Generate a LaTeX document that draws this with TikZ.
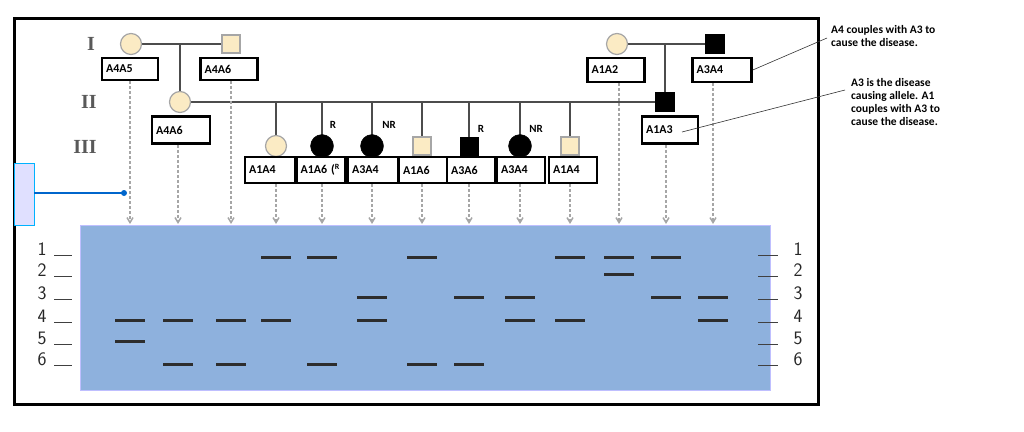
\documentclass[tikz,border=0pt]{standalone}
\usepackage{fontspec}
\setmainfont{Carlito}
\newfontfamily\serifnum{Liberation Serif}
\usetikzlibrary{arrows.meta}
\definecolor{gel}{HTML}{8EB1DD}
\definecolor{palef}{HTML}{FBEBC4}
\begin{document}
\begin{tikzpicture}[x=1pt,y=-1pt,
  pale/.style={fill=palef,draw=gray!70,line width=1.2pt},
  aff/.style={fill=black,draw=black},
  lab/.style={draw=black,line width=2.5pt,fill=white,minimum height=22pt,inner sep=2pt,font=\bfseries\fontsize{12}{14}\selectfont,anchor=center},
  ped/.style={draw=gray!60!black,line width=1.3pt},
  arr/.style={draw=gray!70,line width=1.5pt,dash pattern=on 3pt off 2pt,-{Straight Barb[length=5pt,width=6pt]}},
  band/.style={draw=gray!35!black,line width=3pt},
  gen/.style={font=\serifnum\bfseries\fontsize{20}{22}\selectfont,text=gray!70!black},
  num/.style={font=\sffamily\fontsize{19}{20}\selectfont,text=gray!30!black},
  note/.style={font=\bfseries\fontsize{11.5}{13}\selectfont,align=left,anchor=north west,inner sep=0pt}]
\useasboundingbox (0,0) rectangle (1024,431);
\draw[line width=3pt] (14,18) rectangle (818,404);
% generations
\node[gen] (gI) at (91,44) {I};
\node[gen] (gII) at (89,102) {II};
\node[gen] (gIII) at (85,147) {III};
% left blue tab
\fill[blue!12,draw=blue!30!cyan] (14,163) rectangle (34,225);
\coordinate (tab) at (34,193);
\fill[blue!50!cyan!80!black] (124,193) circle (3);
\coordinate (dot) at (124,193);
\draw[blue!50!cyan!80!black,line width=1.5pt] (tab) -- (dot);
% gel
\fill[gel,draw=blue!25!white] (80,225) rectangle (770,390);
% pedigree lines
\draw[ped] (131,44) -- (231,44);
\draw[ped] (180,44) -- (180,102);
\draw[ped] (180,102) -- (665,102);
\foreach \x in {276,322,372,422,469,520,570}{\draw[ped] (\x,102) -- (\x,140);}
\draw[ped] (617,44) -- (715,44);
\draw[ped] (665,44) -- (665,102);
% symbols
\node[circle,pale,minimum size=21pt,inner sep=0] (p1) at (131,44) {};
\node[rectangle,pale,minimum size=18pt,inner sep=0] (p2) at (231,44) {};
\node[circle,pale,minimum size=21pt,inner sep=0] (p3) at (180,102) {};
\node[circle,pale,minimum size=21pt,inner sep=0] (c1) at (276,146) {};
\node[circle,aff,minimum size=23pt,inner sep=0] (c2) at (322,146) {};
\node[circle,aff,minimum size=23pt,inner sep=0] (c3) at (372,146) {};
\node[rectangle,pale,minimum size=18pt,inner sep=0] (c4) at (422,146) {};
\node[rectangle,aff,minimum size=18pt,inner sep=0] (c5) at (469,146) {};
\node[circle,aff,minimum size=23pt,inner sep=0] (c6) at (520,146) {};
\node[rectangle,pale,minimum size=18pt,inner sep=0] (c7) at (570,146) {};
\node[circle,pale,minimum size=21pt,inner sep=0] (q1) at (617,44) {};
\node[rectangle,aff,minimum size=19pt,inner sep=0] (q2) at (715,44) {};
\node[rectangle,aff,minimum size=19pt,inner sep=0] (q3) at (665,102) {};
\node[font=\bfseries\fontsize{11}{12}\selectfont] (r1) at (333,125) {R};
\node[font=\bfseries\fontsize{11}{12}\selectfont] (r2) at (389,125) {NR};
\node[font=\bfseries\fontsize{11}{12}\selectfont] (r3) at (481,129) {R};
\node[font=\bfseries\fontsize{11}{12}\selectfont] (r4) at (536,129) {NR};
% label boxes
\node[lab,minimum width=56pt,text width=48pt] (b1) at (130,69) {A4A5};
\node[lab,minimum width=57pt,text width=49pt] (b2) at (229,69) {A4A6};
\node[lab,minimum width=58pt,text width=50pt,minimum height=27pt] (b3) at (181,130) {A4A6};
\node[lab,minimum width=57pt,text width=49pt,minimum height=24pt] (b12) at (616,70) {A1A2};
\node[lab,minimum width=59pt,text width=51pt,minimum height=24pt] (b13) at (722,70) {A3A4};
\node[lab,minimum width=56pt,text width=48pt,minimum height=27pt] (b14) at (670,130) {A1A3};
\node[lab,minimum width=50pt,text width=42pt,minimum height=26pt] (b4) at (270,170) {A1A4};
\node[lab,minimum width=49pt,text width=41pt,minimum height=26pt] (b5) at (321,170) {A1A6 (\textsuperscript{R}};
\node[lab,minimum width=50pt,text width=42pt,minimum height=26pt] (b6) at (373,170) {A3A4};
\node[lab,minimum width=48pt,text width=40pt,minimum height=26pt] (b7) at (423,170) {A1A6};
\node[lab,minimum width=48pt,text width=40pt,minimum height=26pt] (b8) at (471,170) {A3A6};
\node[lab,minimum width=48pt,text width=40pt,minimum height=26pt] (b9) at (521,170) {A3A4};
\node[lab,minimum width=48pt,text width=40pt,minimum height=26pt] (b10) at (573,170) {A1A4};
% arrows
\foreach \b/\x in {b1/130,b2/231,b3/178,b4/276,b5/322,b6/372,b7/422,b8/469,b9/520,b10/570,b12/619,b14/666,b13/713}{
  \coordinate (e\b) at (\x,224);
  \draw[arr] (\b.south -| e\b) -- (e\b);}
% bands
\foreach \x/\r in {130/4,130/5,178/4,178/6,231/4,231/6,276/1,276/4,322/1,322/6,372/3,372/4,422/1,422/6,469/3,469/6,520/3,520/4,570/1,570/4,619/1,619/2,666/1,666/3,713/3,713/4}{
  \pgfmathsetmacro\yy{{0,257,274,297,320,341,364}[\r]}
  \draw[band] (\x-15,\yy) -- (\x+15,\yy);}
% lane numbers
\foreach \r/\yy in {1/249,2/270,3/293,4/316,5/338,6/359}{
  \node[num] (L\r) at (42,\yy) {\r};
  \node[num] (R\r) at (798,\yy) {\r};
  \draw[gray!50!black,line width=1pt] (54,\yy+6) -- (72,\yy+6);
  \draw[gray!50!black,line width=1pt] (758,\yy+6) -- (778,\yy+6);}
% notes
\node[note] (n1) at (831,25) {A4 couples with A3 to\\cause the disease.};
\node[note] (n2) at (851,78) {A3 is the disease\\causing allele. A1\\couples with A3 to\\cause the disease.};
\draw[black!80,line width=0.6pt] (b13.east) -- (827,38);
\draw[black!80,line width=0.6pt] (b14.center) ++(12,2) -- (845,90);
\end{tikzpicture}
\end{document}
